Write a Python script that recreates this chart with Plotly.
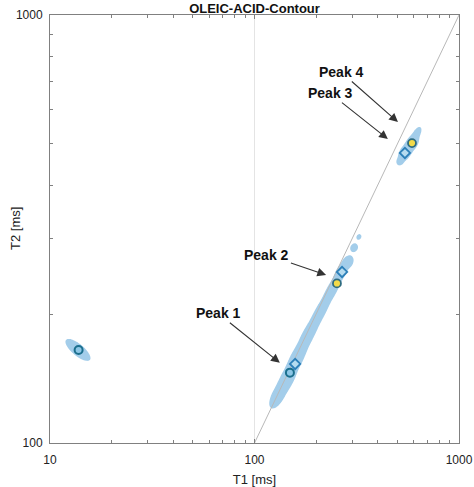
"""T1-T2 contour map of oleic acid with the fitted peak positions marked."""

import numpy as np
import plotly.graph_objects as go

# ---- data -----------------------------------------------------------------
# intensity components of the T1-T2 map: centre (ms), relative amplitude,
# spread along / across the ridge (screen px) and ridge angle (deg)
comp_t1 = [13.7, 129, 143, 161, 183, 209, 239, 265, 287, 307, 324, 514, 544, 589, 623]
comp_t2 = [165, 128, 140, 158, 179, 202, 228, 251, 265, 286, 303, 454, 476, 502, 530]
comp_amp = [1.0, 0.7, 1.0, 1.0, 1.0, 0.9, 0.9, 0.8, 0.6, 0.45, 0.3, 0.4, 0.9, 1.0, 0.6]
comp_major = [8, 7, 10, 10, 10, 10, 9, 6, 4, 3, 2.5, 2.5, 5, 5, 4]
comp_minor = [3, 3.3, 3.5, 3.3, 3, 2.8, 2.7, 2.7, 3, 2.5, 2, 2.2, 3, 3, 2]
comp_angle = [-40, 62, 62, 62, 62, 62, 62, 62, 62, 62, 62, 60, 60, 60, 60]

# fitted peak markers
circle_t1 = [13.8, 149]
circle_t2 = [165, 146]
diamond_t1 = [158, 268, 544]
diamond_t2 = [153, 251, 476]
yellow_t1 = [253, 589]
yellow_t2 = [236, 502]

# peak labels: arrow head (ms) and label position (ms)
peak_names = ["Peak 1", "Peak 2", "Peak 3", "Peak 4"]
peak_head_t1 = [133, 224, 449, 503]
peak_head_t2 = [154, 247, 513, 562]
peak_text_t1 = [66.3, 115, 234, 265]
peak_text_t2 = [201, 275, 657, 736]

diag_ms = [100, 1000]
vline_t2 = [100, 1000]
x_minor = [20, 30, 40, 50, 60, 70, 80, 90, 200, 300, 400, 500, 600, 700, 800, 900]
y_minor = [200, 300, 400, 500, 600, 700, 800, 900]

_LIGHT = "#a3cdea"

# ---- build the contour grid -------------------------------------------------
PX_X, PX_Y = 204.5, 428.0   # screen px per decade on each axis
lx = np.linspace(1.0, 2.9, 480)
ly = np.linspace(2.0, 2.85, 360)
LX, LY = np.meshgrid(lx, ly)
Z = np.zeros_like(LX)
for t1, t2, a, smaj, smin, ang in zip(comp_t1, comp_t2, comp_amp, comp_major, comp_minor, comp_angle):
    du = (LX - np.log10(t1)) * PX_X
    dv = (LY - np.log10(t2)) * PX_Y
    th = np.deg2rad(ang)
    pa = du * np.cos(th) + dv * np.sin(th)
    pb = -du * np.sin(th) + dv * np.cos(th)
    Z += a * np.exp(-0.5 * ((pa / smaj) ** 2 + (pb / smin) ** 2))
Z = np.round(np.clip(Z, 0, 1), 3)

fig = go.Figure()

fig.add_trace(go.Scatter(x=[100, 100], y=vline_t2, mode="lines",
                         line=dict(color="#e4e4e4", width=1), hoverinfo="skip"))
fig.add_trace(go.Scatter(x=diag_ms, y=diag_ms, mode="lines",
                         line=dict(color="#b8b8b8", width=1), hoverinfo="skip"))

fig.add_trace(go.Contour(
    x=10 ** lx, y=10 ** ly, z=Z,
    zmin=0, zmax=1,
    contours=dict(start=0.15, end=0.15, size=0.5, coloring="fill"),
    colorscale=[[0, "rgba(255,255,255,0)"], [0.1, "rgba(255,255,255,0)"],
                [0.1, _LIGHT], [1, _LIGHT]],
    line=dict(width=0),
    showscale=False,
    hoverinfo="skip",
))

fig.add_trace(go.Scatter(
    x=circle_t1, y=circle_t2, mode="markers",
    marker=dict(symbol="circle", size=8, color="#8cc6e6",
                line=dict(color="#1b6f8e", width=2)),
))
fig.add_trace(go.Scatter(
    x=diamond_t1, y=diamond_t2, mode="markers",
    marker=dict(symbol="diamond", size=8, color="#b6dcf0",
                line=dict(color="#2c7fb8", width=1.8)),
))
fig.add_trace(go.Scatter(
    x=yellow_t1, y=yellow_t2, mode="markers",
    marker=dict(symbol="circle", size=8, color="#f2da4a",
                line=dict(color="#2f6c80", width=1.8)),
))

for name, hx, hy, tx, ty in zip(peak_names, peak_head_t1, peak_head_t2, peak_text_t1, peak_text_t2):
    fig.add_annotation(
        x=np.log10(hx), y=np.log10(hy),
        ax=np.log10(tx), ay=np.log10(ty), axref="x", ayref="y",
        text=f"<b>{name}</b>", showarrow=True,
        arrowhead=2, arrowsize=1.6, arrowwidth=1.1, arrowcolor="#333",
        font=dict(size=14, color="#111"),
    )

# y-axis title placed by hand, closer to the tick labels than plotly allows
fig.add_annotation(
    text="T2 [ms]", textangle=-90, showarrow=False,
    xref="paper", yref="paper", x=(15 - 50) / 409, y=0.5,
    xanchor="center", yanchor="middle", font=dict(size=13, color="#222"),
)

axis_common = dict(
    type="log", showgrid=False, zeroline=False, automargin=False,
    showline=True, linecolor="#808080", linewidth=1, mirror="allticks",
    ticks="inside", ticklen=4, tickcolor="#808080",
    tickfont=dict(size=12, color="#222"),
    minor=dict(ticks="inside", ticklen=3, tickcolor="#808080"),
)

fig.update_layout(
    width=474, height=487,
    template="simple_white",
    font=dict(family="Liberation Sans, Arial, sans-serif", color="#222"),
    paper_bgcolor="white", plot_bgcolor="white",
    showlegend=False,
    margin=dict(l=50, r=15, t=15, b=44, autoexpand=False),
    title=dict(text="<b>OLEIC-ACID-Contour</b>", x=0.5, xref="paper",
               y=1 - 8 / 487, yref="container", yanchor="middle",
               font=dict(size=13, color="#111")),
    xaxis=dict(**axis_common, range=[1, 3], tickvals=[10, 100, 1000],
               ticktext=["10", "100", "1000"], ticklabelstandoff=6,
               title=dict(text="T1 [ms]", font=dict(size=13), standoff=9)),
    yaxis=dict(**axis_common, range=[2, 3], tickvals=[100, 1000],
               ticktext=["100", "1000"], ticklabelstandoff=4),
)
fig.update_xaxes(minor_tickvals=x_minor)
fig.update_yaxes(minor_tickvals=y_minor)

# drop the browser's default body margin so the figure sits at the page origin
fig.write_html("out.html", config={"displayModeBar": False},
               post_script="document.body.style.margin='0';")
